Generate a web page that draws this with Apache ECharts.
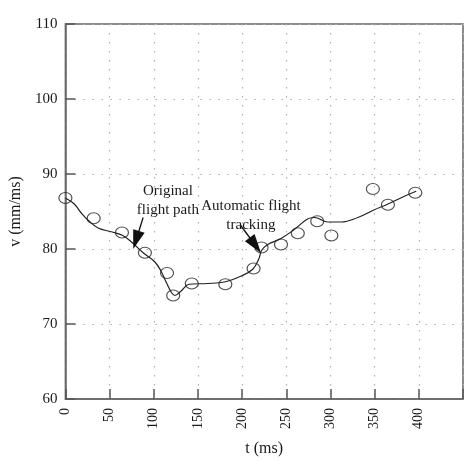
<!DOCTYPE html>
<html>
<head>
<meta charset="utf-8">
<script src="https://cdn.jsdelivr.net/npm/echarts@6/dist/echarts.min.js"></script>
<style>
html,body{margin:0;padding:0;background:#fff;}
#c{width:474px;height:474px;}
</style>
</head>
<body>
<div id="c"></div>
<script>
// Measured points (circles)
var pointT = [0, 32, 64, 90, 115, 122, 143, 181, 213, 222, 244, 263, 285, 301, 348, 365, 396];
var pointV = [86.8, 84.1, 82.2, 79.5, 76.8, 73.8, 75.4, 75.3, 77.4, 80.2, 80.6, 82.1, 83.7, 81.8, 88.0, 85.9, 87.5];

// Fitted curve samples
var curveT = [0, 10, 18, 26, 37, 52, 65, 76, 88, 101, 108, 114, 120, 124, 131, 140, 161, 180, 199, 212, 219, 222, 229, 244, 259, 274, 282, 297, 312, 331, 349, 365, 383, 397];
var curveV = [86.8, 86.0, 84.8, 83.8, 82.8, 82.3, 81.8, 80.8, 79.5, 78.3, 77.1, 75.6, 74.2, 73.8, 74.4, 75.3, 75.4, 75.6, 76.4, 77.3, 78.7, 79.8, 80.6, 81.4, 82.6, 84.0, 84.2, 83.6, 83.6, 84.2, 85.2, 86.0, 87.0, 87.7];

// Axis ticks
var xTicks = [0, 50, 100, 150, 200, 250, 300, 350, 400];
var yTicks = [60, 70, 80, 90, 100, 110];

// Annotations
var annoTexts = ['Original\nflight path', 'Automatic flight\ntracking'];
var annoPos = [[116, 86.4], [210, 84.5]];
var arrowFrom = [[88, 84.2], [198, 83.2]];
var arrowTo = [[80, 81.2], [215, 80.5]];

var serif = '"Liberation Serif", "DejaVu Serif", serif';
var chart = echarts.init(document.getElementById('c'), null, {renderer: 'canvas'});

var curveData = curveT.map(function (t, i) { return [t, curveV[i]]; });
var pointData = pointT.map(function (t, i) { return [t, pointV[i]]; });

chart.setOption({
  animation: false,
  backgroundColor: '#fff',
  grid: {left: 64, right: 11, top: 24, bottom: 75, show: true, borderColor: '#666', borderWidth: 1.5},
  xAxis: {
    type: 'value', min: 0, max: 450, interval: 50,
    name: 't (ms)', nameLocation: 'middle', nameGap: 42,
    nameTextStyle: {fontFamily: serif, fontSize: 16, color: '#1a1a1a'},
    axisLine: {lineStyle: {color: '#666', width: 1.5}},
    axisTick: {show: true, inside: true, length: 10, lineStyle: {color: '#555', width: 1.5}},
    axisLabel: {
      rotate: 90, margin: 9, fontFamily: serif, fontSize: 14, color: '#1a1a1a',
      formatter: function (v) { return xTicks.indexOf(v) >= 0 ? String(v) : ''; }
    },
    splitLine: {show: true, lineStyle: {color: '#b0b0b0', type: [1.5, 7.5], width: 1.2}}
  },
  yAxis: {
    type: 'value', min: 60, max: 110, interval: 10,
    name: 'v (mm/ms)', nameLocation: 'middle', nameGap: 37,
    nameTextStyle: {fontFamily: serif, fontSize: 16, color: '#1a1a1a'},
    axisLine: {show: true, lineStyle: {color: '#666', width: 1.5}},
    axisTick: {show: true, inside: true, length: 10, lineStyle: {color: '#555', width: 1.5}},
    axisLabel: {
      margin: 8, fontFamily: serif, fontSize: 15, color: '#1a1a1a',
      formatter: function (v) { return yTicks.indexOf(v) >= 0 ? String(v) : ''; }
    },
    splitLine: {show: true, lineStyle: {color: '#b0b0b0', type: [1.5, 7.5], width: 1.2}}
  },
  series: [
    {
      type: 'line', data: curveData, smooth: 0.4, showSymbol: false,
      lineStyle: {color: '#222', width: 1.2}, z: 3,
      markLine: {
        silent: true, symbol: ['none', 'triangle'], symbolSize: [12, 19],
        label: {show: false},
        lineStyle: {color: '#111', width: 1.3, type: 'solid'},
        data: arrowFrom.map(function (f, i) { return [{coord: f}, {coord: arrowTo[i]}]; })
      },
      markPoint: {
        silent: true, symbol: 'rect', symbolSize: 1,
        itemStyle: {color: 'rgba(0,0,0,0)'},
        label: {show: true, position: 'inside', fontFamily: serif, fontSize: 15, color: '#1a1a1a', lineHeight: 19, align: 'center'},
        data: annoTexts.map(function (t, i) { return {coord: annoPos[i], value: t, label: {formatter: t}}; })
      }
    },
    {
      type: 'scatter', data: pointData, symbol: 'circle', symbolSize: [13, 11],
      itemStyle: {color: 'rgba(255,255,255,0)', borderColor: '#222', borderWidth: 1.1}, z: 4
    }
  ]
});
</script>
</body>
</html>
